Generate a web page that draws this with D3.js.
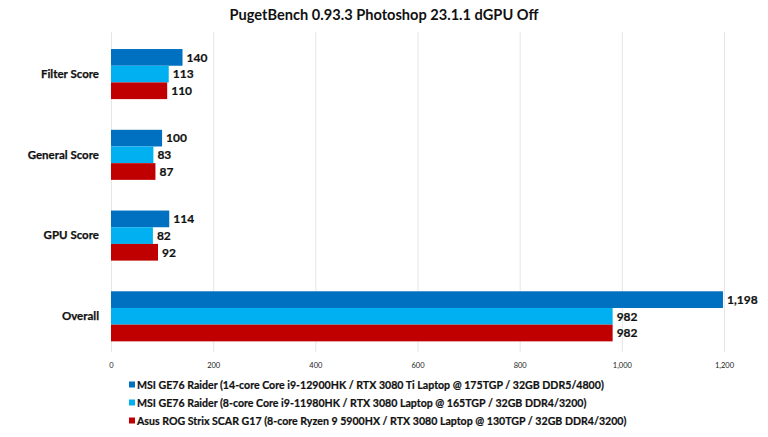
<!DOCTYPE html>
<html><head><meta charset="utf-8">
<script src="https://cdn.jsdelivr.net/npm/d3@7"></script>
<style>body{margin:0;background:#fff}svg{display:block}</style>
</head><body>
<svg id="c" width="768" height="437"></svg>
<script>
const categories = ["Filter Score", "General Score", "GPU Score", "Overall"];
const seriesNames = [
  "MSI GE76 Raider (14-core Core i9-12900HK / RTX 3080 Ti Laptop @ 175TGP / 32GB DDR5/4800)",
  "MSI GE76 Raider (8-core Core i9-11980HK / RTX 3080 Laptop @ 165TGP / 32GB DDR4/3200)",
  "Asus ROG Strix SCAR G17 (8-core Ryzen 9 5900HX / RTX 3080 Laptop @ 130TGP / 32GB DDR4/3200)"
];
const seriesA = [140, 100, 114, 1198];
const seriesB = [113, 83, 82, 982];
const seriesC = [110, 87, 92, 982];
const xTicks = [0, 200, 400, 600, 800, 1000, 1200];
const colors = ["#0070C0", "#00B0F0", "#C00000"];
const title = "PugetBench 0.93.3 Photoshop 23.1.1 dGPU Off";

const series = [seriesA, seriesB, seriesC];
const svg = d3.select("#c");
const font = "Lato, 'Open Sans', sans-serif";

const x = d3.scaleLinear().domain([0, 1200]).range([111, 724]);
const y = d3.scaleBand().domain(categories).range([33.7, 356.7]).paddingInner(0.38).paddingOuter(0.19);
const yi = d3.scaleBand().domain([0,1,2]).range([0, y.bandwidth()]);

// title
svg.append("text").attr("x", 384).attr("y", 20).attr("text-anchor", "middle")
  .attr("font-family", font).attr("font-size", 14.6).attr("font-weight", 700).attr("fill", "#111")
  .text(title);

// gridlines + x axis
const xAxis = d3.axisBottom(x).tickValues(xTicks).tickSize(-320).tickFormat(d3.format(","));
const gx = svg.append("g").attr("transform", "translate(0,352)").call(xAxis);
gx.select(".domain").remove();
gx.selectAll(".tick line").attr("stroke", "#e6e6e6").attr("stroke-width", 1);
gx.selectAll(".tick text").attr("font-family", "'Liberation Sans Narrow', " + font)
  .attr("font-size", 7.5).attr("fill", "#222").attr("dy", "1.75em");

// category axis
const yAxis = d3.axisLeft(y).tickSize(0).tickPadding(12);
const gy = svg.append("g").attr("transform", "translate(111,0)").call(yAxis);
gy.select(".domain").remove();
gy.selectAll(".tick text").attr("font-family", font).attr("font-size", 11.5)
  .attr("font-weight", 700).attr("fill", "#111")
  .attr("stroke", "#111").attr("stroke-width", 0.25);

// bars
series.forEach((vals, si) => {
  const g = svg.append("g");
  g.selectAll("rect").data(vals).enter().append("rect")
    .attr("x", x(0))
    .attr("y", (d, i) => y(categories[i]) + yi(si))
    .attr("width", d => x(d) - x(0))
    .attr("height", yi.bandwidth())
    .attr("fill", colors[si]);
  g.selectAll("text").data(vals).enter().append("text")
    .attr("x", d => x(d) + 4)
    .attr("y", (d, i) => y(categories[i]) + yi(si) + yi.bandwidth() / 2)
    .attr("dy", "0.36em")
    .attr("font-family", font).attr("font-size", 12).attr("font-weight", 700).attr("fill", "#111")
    .attr("stroke", "#111").attr("stroke-width", 0.2)
    .text(d => d3.format(",")(d));
});

// legend
const leg = svg.append("g");
seriesNames.forEach((n, i) => {
  const ly = 385 + i * 18;
  leg.append("rect").attr("x", 129).attr("y", ly - 3.5).attr("width", 6).attr("height", 6).attr("fill", colors[i]);
  leg.append("text").attr("x", 137).attr("y", ly).attr("dy", "0.35em")
    .attr("font-family", font).attr("font-size", 10.6).attr("font-weight", 700).attr("fill", "#111")
    .attr("stroke", "#111").attr("stroke-width", 0.2)
    .text(n);
});
</script>
</body></html>
